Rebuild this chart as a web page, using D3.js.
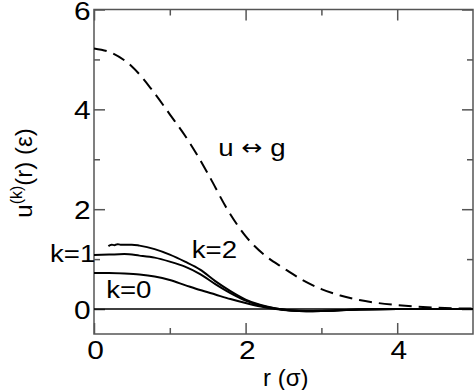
<!DOCTYPE html>
<html>
<head>
<meta charset="utf-8">
<script src="https://cdn.jsdelivr.net/npm/d3@7"></script>
<style>
  body { margin: 0; background: #fff; }
  svg { display: block; font-family: "Liberation Sans", Arial, sans-serif; }
</style>
</head>
<body>
<svg id="chart"></svg>
<script>
const width = 474;
const height = 390;
const margin = { top: 9.5, right: 1, bottom: 56, left: 94 };

// u <-> g (dashed)
const ugR = [0, 0.25, 0.5, 0.75, 1.0, 1.25, 1.5, 1.75, 2.0, 2.25, 2.5, 2.75, 3.0, 3.25, 3.5, 3.75, 4.0, 4.25, 4.5, 4.75, 5.0];
const ugU = [5.22, 5.12, 4.86, 4.42, 3.9, 3.36, 2.72, 2.02, 1.46, 1.08, 0.82, 0.58, 0.40, 0.27, 0.18, 0.12, 0.08, 0.05, 0.03, 0.015, 0.01];

// k = 0
const k0R = [0, 0.2, 0.4, 0.6, 0.8, 1.0, 1.2, 1.4, 1.6, 1.8, 2.0, 2.2, 2.4, 2.6, 2.8, 3.0, 3.2, 3.5, 4.0, 5.0];
const k0U = [0.72, 0.72, 0.71, 0.69, 0.65, 0.58, 0.48, 0.38, 0.29, 0.20, 0.12, 0.05, 0.0, -0.03, -0.04, -0.035, -0.025, -0.01, 0.0, 0.0];

// k = 1
const k1R = [0, 0.2, 0.4, 0.6, 0.8, 1.0, 1.2, 1.4, 1.6, 1.8, 2.0, 2.2, 2.4, 2.6, 2.8, 3.0, 3.2, 3.5, 4.0, 5.0];
const k1U = [1.08, 1.09, 1.10, 1.07, 1.03, 0.95, 0.85, 0.70, 0.50, 0.32, 0.17, 0.07, 0.01, -0.03, -0.045, -0.04, -0.03, -0.01, 0.0, 0.0];

// k = 2 (noisy near the start)
const k2R = [0.19, 0.23, 0.27, 0.31, 0.35, 0.4, 0.5, 0.6, 0.8, 1.0, 1.2, 1.4, 1.6, 1.8, 2.0, 2.2, 2.4, 2.6, 2.8, 3.0, 3.2, 3.5, 4.0, 5.0];
const k2U = [1.26, 1.29, 1.28, 1.30, 1.29, 1.29, 1.29, 1.27, 1.20, 1.09, 0.95, 0.79, 0.56, 0.36, 0.19, 0.08, 0.01, -0.03, -0.045, -0.04, -0.03, -0.01, 0.0, 0.0];

const xMajor = [0, 2, 4];
const xMinor = [1, 3];
const yMajor = [0, 2, 4, 6];
const yMinor = [1, 3, 5];

const labels = [
  { text: "k=2", r: 1.29, u: 1.03 },
  { text: "k=1", r: -0.58, u: 0.95 },
  { text: "k=0", r: 0.16, u: 0.23 }
];

const svg = d3.select("#chart")
  .attr("width", width)
  .attr("height", height);

const xScale = d3.scaleLinear().domain([0, 5]).range([margin.left, width - margin.right]);
const yScale = d3.scaleLinear().domain([-0.5, 6]).range([height - margin.bottom, margin.top]);

const frameColor = "#555";
const stretch = 1.15;

function styleAxis(g) {
  g.select(".domain").remove();
  g.selectAll(".tick line").attr("stroke", frameColor).attr("stroke-width", 1.5);
}

// inward ticks on all four sides
const majorLen = 11, minorLen = 6;
svg.append("g").attr("transform", `translate(0,${yScale(-0.5)})`)
  .call(d3.axisBottom(xScale).tickValues(xMajor).tickSizeInner(-majorLen).tickSizeOuter(0).tickPadding(7).tickFormat(d3.format("d")))
  .call(styleAxis)
  .call(g => g.selectAll("text")
    .attr("fill", "#000").style("font-size", "26px")
    .attr("transform", `scale(${stretch},1)`)
    .attr("x", 1));
svg.append("g").attr("transform", `translate(0,${yScale(-0.5)})`)
  .call(d3.axisBottom(xScale).tickValues(xMinor).tickSizeInner(-minorLen).tickSizeOuter(0).tickFormat(""))
  .call(styleAxis);
svg.append("g").attr("transform", `translate(0,${yScale(6)})`)
  .call(d3.axisTop(xScale).tickValues(xMajor).tickSizeInner(-majorLen).tickSizeOuter(0).tickFormat(""))
  .call(styleAxis);
svg.append("g").attr("transform", `translate(0,${yScale(6)})`)
  .call(d3.axisTop(xScale).tickValues(xMinor).tickSizeInner(-minorLen).tickSizeOuter(0).tickFormat(""))
  .call(styleAxis);

svg.append("g").attr("transform", `translate(${xScale(0)},0)`)
  .call(d3.axisLeft(yScale).tickValues(yMajor).tickSizeInner(-majorLen).tickSizeOuter(0).tickPadding(3).tickFormat(d3.format("d")))
  .call(styleAxis)
  .call(g => g.selectAll("text")
    .attr("fill", "#000").style("font-size", "26px")
    .attr("transform", `scale(${stretch},1)`)
    .attr("dy", "0.37em"));
svg.append("g").attr("transform", `translate(${xScale(0)},0)`)
  .call(d3.axisLeft(yScale).tickValues(yMinor).tickSizeInner(-minorLen).tickSizeOuter(0).tickFormat(""))
  .call(styleAxis);
svg.append("g").attr("transform", `translate(${xScale(5)},0)`)
  .call(d3.axisRight(yScale).tickValues(yMajor).tickSizeInner(-majorLen).tickSizeOuter(0).tickFormat(""))
  .call(styleAxis);
svg.append("g").attr("transform", `translate(${xScale(5)},0)`)
  .call(d3.axisRight(yScale).tickValues(yMinor).tickSizeInner(-minorLen).tickSizeOuter(0).tickFormat(""))
  .call(styleAxis);

// frame
svg.append("rect")
  .attr("x", xScale(0))
  .attr("y", yScale(6))
  .attr("width", xScale(5) - xScale(0))
  .attr("height", yScale(-0.5) - yScale(6))
  .attr("fill", "none")
  .attr("stroke", frameColor)
  .attr("stroke-width", 1.5);

// zero line
svg.append("line")
  .attr("x1", xScale(0)).attr("x2", xScale(5))
  .attr("y1", yScale(0)).attr("y2", yScale(0))
  .attr("stroke", "#000").attr("stroke-width", 1.5);

const line = d3.line()
  .x(d => xScale(d[0]))
  .y(d => yScale(d[1]))
  .curve(d3.curveMonotoneX);

const series = [
  { r: k0R, u: k0U, dash: null },
  { r: k1R, u: k1U, dash: null },
  { r: k2R, u: k2U, dash: null },
  { r: ugR, u: ugU, dash: "13,7" }
];

svg.append("g")
  .selectAll("path")
  .data(series)
  .enter()
  .append("path")
  .attr("d", s => line(d3.zip(s.r, s.u)))
  .attr("fill", "none")
  .attr("stroke", "#000")
  .attr("stroke-width", 2)
  .attr("stroke-dasharray", s => s.dash);

// in-plot labels
svg.append("g")
  .selectAll("text")
  .data(labels)
  .enter()
  .append("text")
  .attr("transform", d => `translate(${xScale(d.r)},${yScale(d.u)}) scale(${stretch},1)`)
  .style("font-size", "24px")
  .text(d => d.text);

// u <-> g label, arrow from DejaVu for a wider glyph
const ugLabel = svg.append("text")
  .attr("transform", `translate(${xScale(1.64)},${yScale(3.06)}) scale(${stretch},1)`)
  .style("font-size", "24px");
ugLabel.append("tspan").text("u ");
ugLabel.append("tspan").style("font-family", "'DejaVu Sans'").style("font-size", "22px").attr("dy", -1).text("\u2194");
ugLabel.append("tspan").attr("dy", 1).text(" g");

// axis titles
svg.append("text")
  .attr("transform", `translate(${xScale(2.53)},386)`)
  .attr("text-anchor", "middle")
  .style("font-size", "24px")
  .text("r (\u03c3)");

const yTitle = svg.append("text")
  .attr("transform", `translate(32,173) rotate(-90)`)
  .attr("text-anchor", "middle")
  .style("font-size", "24px");
yTitle.append("tspan").text("u");
yTitle.append("tspan").attr("dy", -10).style("font-size", "16px").text("(k)");
yTitle.append("tspan").attr("dy", 10).text("(r) (\u03b5)");
</script>
</body>
</html>
